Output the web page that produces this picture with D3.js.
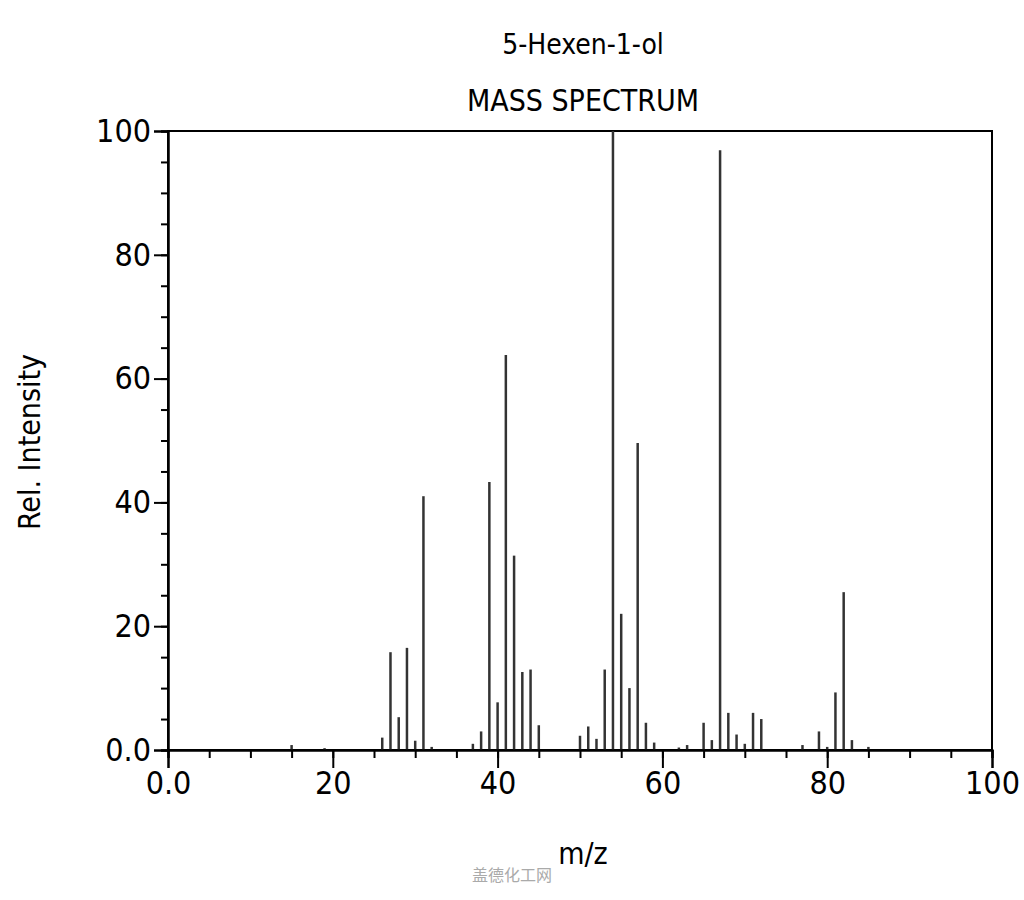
<!DOCTYPE html>
<html><head><meta charset="utf-8">
<script src="https://cdn.jsdelivr.net/npm/d3@7"></script>
<style>body{margin:0;background:#fff}</style>
</head><body><svg id="chart"></svg>
<script>
var mz =        [15, 19, 26, 27, 28, 29, 30, 31, 32, 37, 38, 39, 40, 41, 42, 43, 44, 45, 50, 51, 52, 53, 54, 55, 56, 57, 58, 59, 62, 63, 65, 66, 67, 68, 69, 70, 71, 72, 77, 79, 80, 81, 82, 83, 85];
var intensity = [0.8,0.3,2, 15.8,5.3,16.5,1.5,41, 0.5,1, 3, 43.3,7.7,63.8,31.4,12.6,13, 4, 2.3,3.8,1.8,13, 100,22, 10, 49.6,4.4,1.2,0.4,0.8,4.4,1.6,96.9,6, 2.5,1, 6, 5, 0.8,3, 0.5,9.3,25.5,1.6,0.5];
var xTicks = [0, 20, 40, 60, 80, 100];
var yTicks = [0, 20, 40, 60, 80, 100];

var width = 1024, height = 900;
var m = {left: 168, right: 32, top: 131, bottom: 150};
var font = "'DejaVu Sans Condensed', 'DejaVu Sans', sans-serif";
var svg = d3.select("#chart").attr("width", width).attr("height", height)
  .style("font-family", font);

var x = d3.scaleLinear().domain([0, 100]).range([m.left, width - m.right]);
var y = d3.scaleLinear().domain([0, 100]).range([height - m.bottom, m.top]);

// frame
svg.append("rect").attr("x", x(0)).attr("y", y(100))
  .attr("width", x(100) - x(0)).attr("height", y(0) - y(100))
  .attr("fill", "none").attr("stroke", "#000").attr("stroke-width", 2);

// peaks
svg.selectAll("line.peak").data(mz).enter().append("line")
  .attr("class", "peak")
  .attr("x1", function (d) { return x(d); })
  .attr("x2", function (d) { return x(d); })
  .attr("y1", y(0))
  .attr("y2", function (d, i) { return y(intensity[i]); })
  .attr("stroke", "#333").attr("stroke-width", 2.5);

var fmt = function (d) { return d === 0 ? "0.0" : d; };

svg.append("g").attr("transform", "translate(0," + y(0) + ")")
  .call(d3.axisBottom(x).tickValues(xTicks).tickFormat(fmt).tickSize(18).tickPadding(3));
svg.append("g").attr("transform", "translate(0," + y(0) + ")")
  .call(d3.axisBottom(x).tickValues(d3.range(0, 101, 5)).tickFormat("").tickSize(8));
svg.append("g").attr("transform", "translate(" + x(0) + ",0)")
  .call(d3.axisLeft(y).tickValues(yTicks).tickFormat(fmt).tickSize(14).tickPadding(3));
svg.append("g").attr("transform", "translate(" + x(0) + ",0)")
  .call(d3.axisLeft(y).tickValues(d3.range(0, 101, 5)).tickFormat("").tickSize(7));

svg.selectAll(".domain").attr("stroke-width", 2);
svg.selectAll(".tick line").attr("stroke-width", 2);
svg.selectAll(".tick text").attr("font-size", 32).attr("fill", "#000")
  .attr("font-family", font);

svg.append("text").attr("x", 583).attr("y", 54).attr("text-anchor", "middle")
  .attr("font-size", 28).text("5-Hexen-1-ol");
svg.append("text").attr("x", 583).attr("y", 111).attr("text-anchor", "middle")
  .attr("font-size", 30).text("MASS SPECTRUM");
svg.append("text").attr("x", 583).attr("y", 864).attr("text-anchor", "middle")
  .attr("font-size", 30).text("m/z");
svg.append("text").attr("transform", "translate(40,442) rotate(-90)").attr("text-anchor", "middle")
  .attr("font-size", 30).text("Rel. Intensity");
svg.append("text").attr("x", 512).attr("y", 881).attr("text-anchor", "middle")
  .attr("font-size", 16).attr("fill", "#aaa").attr("font-family", "'Noto Sans CJK SC'").text("盖德化工网");
</script></body></html>
